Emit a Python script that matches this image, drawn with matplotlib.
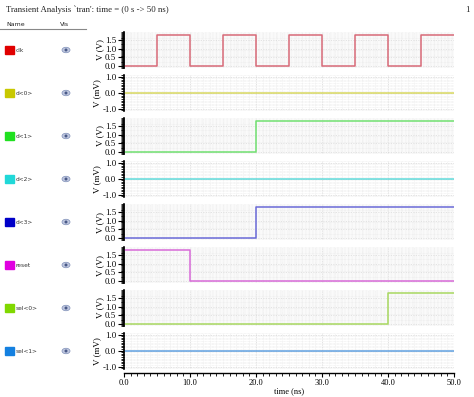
import matplotlib
matplotlib.use("Agg")
import matplotlib.pyplot as plt
import numpy as np
from matplotlib.ticker import MultipleLocator, FormatStrFormatter
from matplotlib.patches import Ellipse, Rectangle

# ---- data ----
signals = ["clk", "d<0>", "d<1>", "d<2>", "d<3>", "reset", "sel<0>", "sel<1>"]
units = ["V", "mV", "V", "mV", "V", "V", "V", "mV"]
swatch_colors = ["#e00000", "#c8c800", "#20e020", "#20d8d8", "#0000c8", "#e000e0", "#80d800", "#1480e0"]
line_colors = ["#d86a78", "#d8d860", "#70e070", "#60dada", "#6a6ad8", "#d86ad8", "#a8d860", "#60a0e0"]

# step waveforms: (times of level changes, levels)
clk_t = [0, 5, 10, 15, 20, 25, 30, 35, 40, 45, 50]
clk_v = [0, 1.8, 0, 1.8, 0, 1.8, 0, 1.8, 0, 1.8, 1.8]
d0_t = [0, 50]; d0_v = [0, 0]
d1_t = [0, 20, 50]; d1_v = [0, 1.8, 1.8]
d2_t = [0, 50]; d2_v = [0, 0]
d3_t = [0, 20, 50]; d3_v = [0, 1.8, 1.8]
reset_t = [0, 10, 50]; reset_v = [1.8, 0, 0]
sel0_t = [0, 40, 50]; sel0_v = [0, 1.8, 1.8]
sel1_t = [0, 50]; sel1_v = [0, 0]
waves = [(clk_t, clk_v), (d0_t, d0_v), (d1_t, d1_v), (d2_t, d2_v),
         (d3_t, d3_v), (reset_t, reset_v), (sel0_t, sel0_v), (sel1_t, sel1_v)]
x_ticks = [0, 10, 20, 30, 40, 50]
v_ticks = [0.0, 0.5, 1.0, 1.5]
mv_ticks = [-1.0, 0.0, 1.0]

W, H = 474, 397
fig = plt.figure(figsize=(W / 100, H / 100), dpi=100)
serif = ["Liberation Serif", "DejaVu Serif"]

def fx(px): return px / W
def fy(py): return 1 - py / H

fig.text(fx(6), fy(10), "Transient Analysis `tran': time = (0 s -> 50 ns)", family=serif,
         fontsize=6.3, va="center", ha="left", color="#222222")
fig.text(fx(470), fy(10), "1", family=serif, fontsize=6.3, va="center", ha="right", color="#222222")
fig.text(fx(6), fy(24), "Name", fontsize=4.5, va="center", ha="left", color="#222222")
fig.text(fx(60), fy(24), "Vis", fontsize=4.5, va="center", ha="left", color="#222222")
fig.add_artist(plt.Line2D([fx(0), fx(86)], [fy(29), fy(29)], color="#888888", lw=0.8))

left, right = 124, 454
top0, pitch, hgt = 32, 43, 36

axes = []
for i, (name, unit, sc, lc, (t, v)) in enumerate(zip(signals, units, swatch_colors, line_colors, waves)):
    top = top0 + pitch * i
    ax = fig.add_axes([fx(left), fy(top + hgt), (right - left) / W, hgt / H])
    ax.step(t, v, where="post", color=lc, lw=1.1)
    ax.set_xlim(0, 50)
    if unit == "V":
        ax.set_ylim(-0.12, 1.97)
        ax.set_yticks(v_ticks)
        ax.yaxis.set_minor_locator(MultipleLocator(0.05))
    else:
        ax.set_ylim(-1.15, 1.1)
        ax.set_yticks(mv_ticks)
        ax.yaxis.set_minor_locator(MultipleLocator(0.1))
    ax.yaxis.set_major_formatter(FormatStrFormatter("%.1f"))
    ax.set_ylabel(f"V ({unit})", family=serif, fontsize=6.5, labelpad=1)
    ax.set_xticks(x_ticks)
    ax.xaxis.set_minor_locator(MultipleLocator(1))
    ax.grid(True, which="major", color="#d8d8d8", lw=0.6, ls=(0, (1, 1)))
    ax.grid(True, which="minor", color="#ececec", lw=0.5, ls=(0, (1, 1)))
    for s in ["top", "right", "bottom"]:
        ax.spines[s].set_visible(False)
    ax.spines["left"].set_linewidth(1.2)
    ax.tick_params(axis="y", which="major", length=4, width=0.8, labelsize=6.3, pad=1.5)
    ax.tick_params(axis="y", which="minor", length=2.5, width=0.6)
    for lab in ax.get_yticklabels():
        lab.set_family(serif)
    if i < len(signals) - 1:
        ax.tick_params(axis="x", which="both", bottom=False, labelbottom=False)
    else:
        ax.spines["bottom"].set_visible(True)
        ax.spines["bottom"].set_position(("outward", 3))
        ax.spines["bottom"].set_linewidth(1.0)
        ax.tick_params(axis="x", which="major", length=3, labelsize=6.0, pad=1)
        ax.tick_params(axis="x", which="minor", length=1.8)
        ax.xaxis.set_major_formatter(FormatStrFormatter("%.1f"))
        for lab in ax.get_xticklabels():
            lab.set_family(serif)
        ax.set_xlabel("time (ns)", family=serif, fontsize=6.0, labelpad=0)
    ax.patch.set_alpha(0)
    axes.append(ax)

    # legend swatch, name, eye icon
    cy = top + hgt / 2
    fig.add_artist(Rectangle((fx(5), fy(cy + 4)), 9 / W, 8 / H, color=sc, transform=fig.transFigure))
    fig.text(fx(16), fy(cy + 0.5), name, fontsize=4.2, va="center", ha="left", color="#333333")
    fig.add_artist(Ellipse((fx(66), fy(cy)), 8 / W, 5.5 / H, facecolor="#c0c8e0",
                           edgecolor="#8090b8", lw=0.5, transform=fig.transFigure))
    fig.add_artist(Ellipse((fx(66), fy(cy)), 3 / W, 3 / H, facecolor="#4a5a88",
                           edgecolor="none", transform=fig.transFigure))

fig.savefig("out.png", dpi=100)
